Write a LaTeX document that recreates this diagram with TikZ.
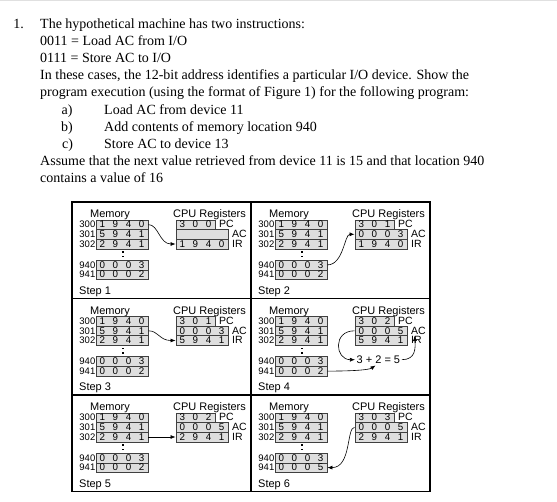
\documentclass[tikz,border=0pt]{standalone}
\usepackage{fontspec}
\setmainfont{Liberation Serif}
\newfontfamily\figfont{Liberation Sans}
\usetikzlibrary{arrows.meta}
\newlength\cw \setlength\cw{13.1bp}
\newcommand\digs[4]{\makebox[\cw]{#1}\makebox[\cw]{#2}\makebox[\cw]{#3}\makebox[\cw]{#4}}
\newcommand\digt[3]{\makebox[\cw]{#1}\makebox[\cw]{#2}\makebox[\cw]{#3}}
\tikzset{
 txt/.style={inner sep=0pt, anchor=base west, font=\fontsize{14bp}{17bp}\selectfont},
 lbl/.style={inner sep=0pt, anchor=base, font=\figfont\fontsize{11bp}{12bp}\selectfont},
 reglbl/.style={inner sep=0pt, anchor=west, font=\figfont\fontsize{10.5bp}{12bp}\selectfont},
 addr/.style={inner sep=0pt, anchor=east, font=\figfont\fontsize{9.5bp}{10bp}\selectfont},
 cell/.style={draw=black!75, fill=black!13, line width=0.5bp, inner sep=0pt, minimum height=9.7bp, anchor=north west, font=\figfont\fontsize{9.8bp}{10bp}\selectfont},
 stepl/.style={inner sep=0pt, anchor=base west, font=\figfont\fontsize{11bp}{12bp}\selectfont},
 eqlbl/.style={inner sep=1.5bp, font=\figfont\fontsize{11bp}{12bp}\selectfont},
 arr/.style={-{Latex[length=5bp,width=4bp]}, line width=0.6bp},
 frame/.style={line width=1.4bp},
}
\newcommand\panel[7]{%
 \begin{scope}[shift={(#2)}]
  \node[lbl] (#1mem) at (38,15.5) {Memory};
  \node[lbl] (#1cpu) at (137.5,15.5) {CPU Registers};
  \node[cell, minimum width=52.4bp] (#1m300) at (23.5,17.5) {\digs1940};
  \node[cell, minimum width=52.4bp] (#1m301) at (23.5,27.2) {\digs5941};
  \node[cell, minimum width=52.4bp] (#1m302) at (23.5,36.9) {\digs2941};
  \node[cell, minimum width=52.4bp] (#1m940) at (23.5,57.8) {\digs0003};
  \node[cell, minimum width=52.4bp] (#1m941) at (23.5,67.5) {#7};
  \node[addr] (#1a300) at (#1m300.west) {300};
  \node[addr] (#1a301) at (#1m301.west) {301};
  \node[addr] (#1a302) at (#1m302.west) {302};
  \node[addr] (#1a940) at (#1m940.west) {940};
  \node[addr] (#1a941) at (#1m941.west) {941};
  \fill (50.3,49.4) rectangle +(1.5,1.5);
  \fill (50.3,53.6) rectangle +(1.5,1.5);
  \node[cell, minimum width=39.3bp] (#1pc) at (103.5,17.5) {#4};
  \node[cell, minimum width=52.4bp] (#1ac) at (103.5,27.2) {#5};
  \node[cell, minimum width=52.4bp] (#1ir) at (103.5,36.9) {#6};
  \node[reglbl] (#1pcl) at (147,22.35) {PC};
  \node[reglbl] (#1acl) at (160,32.05) {AC};
  \node[reglbl] (#1irl) at (160,41.75) {IR};
  \node[stepl] (#1step) at (7,92) {Step #3};
 \end{scope}}
\begin{document}
\begin{tikzpicture}[x=1bp,y=-1bp]
\useasboundingbox (0,0) rectangle (557,502);
\fill[black!12] (0,0) rectangle (557,1.5);
% question text
\node[txt] (n1) at (13.3,28.3) {1.};
\node[txt] (t1) at (40,28.3) {The hypothetical machine has two instructions:};
\node[txt] (t2) at (40,45.5) {0011 = Load AC from I/O};
\node[txt] (t3) at (40,62.6) {0111 = Store AC to I/O};
\node[txt] (t4) at (40,79.8) {In these cases, the 12-bit address identifies a particular I/O device. Show the};
\node[txt] (t5) at (40,96.9) {program execution (using the format of Figure 1) for the following program:};
\node[txt] (la) at (61.5,114.1) {a)};
\node[txt] (ta) at (104,114.1) {Load AC from device 11};
\node[txt] (lb) at (61,131.2) {b)};
\node[txt] (tb) at (104,131.2) {Add contents of memory location 940};
\node[txt] (lc) at (62,148.4) {c)};
\node[txt] (tc) at (104,148.4) {Store AC to device 13};
\node[txt] (t9) at (40,165.5) {Assume that the next value retrieved from device 11 is 15 and that location 940};
\node[txt] (t10) at (40,182.7) {contains a value of 16};
% frame
\draw[frame] (72,202) rectangle (430,491.5);
\draw[frame] (251,202) -- (251,491.5);
\draw[frame] (72,298.5) -- (430,298.5);
\draw[frame] (72,395) -- (430,395);
% panels
\panel{p1}{72,202}{1}{\digt300}{}{\digs1940}{\digs0002}
\panel{p2}{251,202}{2}{\digt301}{\digs0003}{\digs1940}{\digs0002}
\panel{p3}{72,298.5}{3}{\digt301}{\digs0003}{\digs5941}{\digs0002}
\panel{p4}{251,298.5}{4}{\digt302}{\digs0005}{\digs5941}{\digs0002}
\panel{p5}{72,395}{5}{\digt302}{\digs0005}{\digs2941}{\digs0002}
\panel{p6}{251,395}{6}{\digt303}{\digs0005}{\digs2941}{\digs0005}
% step 4 extras
\node[eqlbl] (p4eq) at (378.4,359.7) {3 + 2 = 5};
\coordinate (p4tb) at (375.5,365.5);
\coordinate (p4tc) at (414.5,336);
% connectors
\draw[arr] (p1m300.east) .. controls +(10,0) and +(-16,0) .. (p1ir.west);
\draw[arr] (p2m940.east) .. controls +(16,0) and +(-10,0) .. (p2ac.west);
\draw[arr] (p3m301.east) .. controls +(10,0) and +(-16,0) .. (p3ir.west);
\draw[arr] (p4ac.west) .. controls +(-22,0) and +(-20,0) .. (p4eq.west);
\draw[arr] (p4m941.east) .. controls +(30,0) and +(-6,4) .. (p4tb);
\draw[arr] (p4eq.east) .. controls +(14,0) and +(1,12) .. (p4tc);
\draw[arr] (p5m302.east) -- (p5ir.west);
\draw[arr] (p6ac.west) .. controls +(-8,0) and +(24,0) .. (p6m941.east);
\end{tikzpicture}
\end{document}
